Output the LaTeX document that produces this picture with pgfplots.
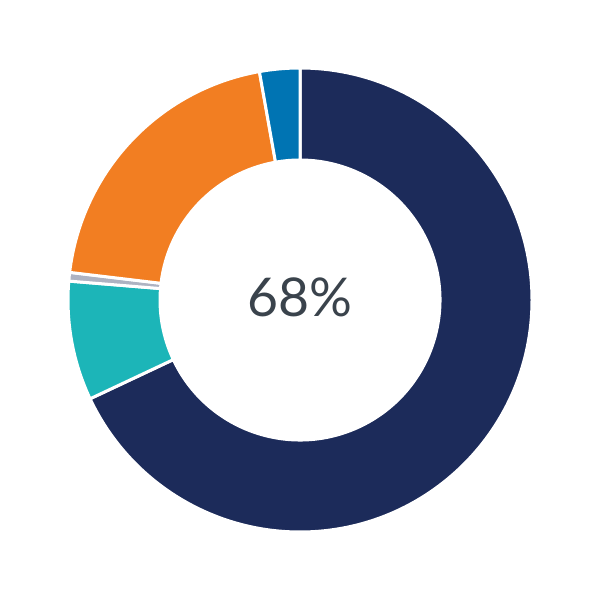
\documentclass[border=0pt]{standalone}
\usepackage{pgfplots}
\pgfplotsset{compat=1.18}
\usepackage{fontspec}
\setmainfont{Lato}
\definecolor{cnavy}{HTML}{1C2B5A}
\definecolor{cteal}{HTML}{1CB5B8}
\definecolor{cgray}{HTML}{AEB3C2}
\definecolor{corange}{HTML}{F27E22}
\definecolor{cblue}{HTML}{0074B3}
\definecolor{ctext}{HTML}{3A434C}
\begin{document}
\begin{tikzpicture}
\begin{axis}[x=1pt,y=1pt,xmin=-300,xmax=300,ymin=-300,ymax=300,hide axis,scale only axis]
\addplot[draw=none,forget plot] coordinates {(-300,-300) (300,300)};
\coordinate (c) at (axis cs:0,0);
\end{axis}
\begin{scope}[shift={(c)}]
\def\Ro{232pt}\def\Ri{140pt}
\def\acc{0}
\foreach \v/\col in {68/cnavy, 8.3/cteal, 0.6/cgray, 20.3/corange, 2.8/cblue}{
  \pgfmathsetmacro{\a}{90-3.6*\acc}
  \pgfmathsetmacro{\b}{90-3.6*(\acc+\v)}
  \fill[\col,draw=white,line width=3pt,line join=miter]
    (\a:\Ro) arc[start angle=\a,end angle=\b,radius=\Ro]
    -- (\b:\Ri) arc[start angle=\b,end angle=\a,radius=\Ri] -- cycle;
  \pgfmathsetmacro{\n}{\acc+\v}
  \global\let\acc\n
}
\node[text=ctext,inner sep=0pt] at (0pt,2.5pt) {\fontsize{53.5}{60}\selectfont 68\%};
\end{scope}
\end{tikzpicture}
\end{document}
